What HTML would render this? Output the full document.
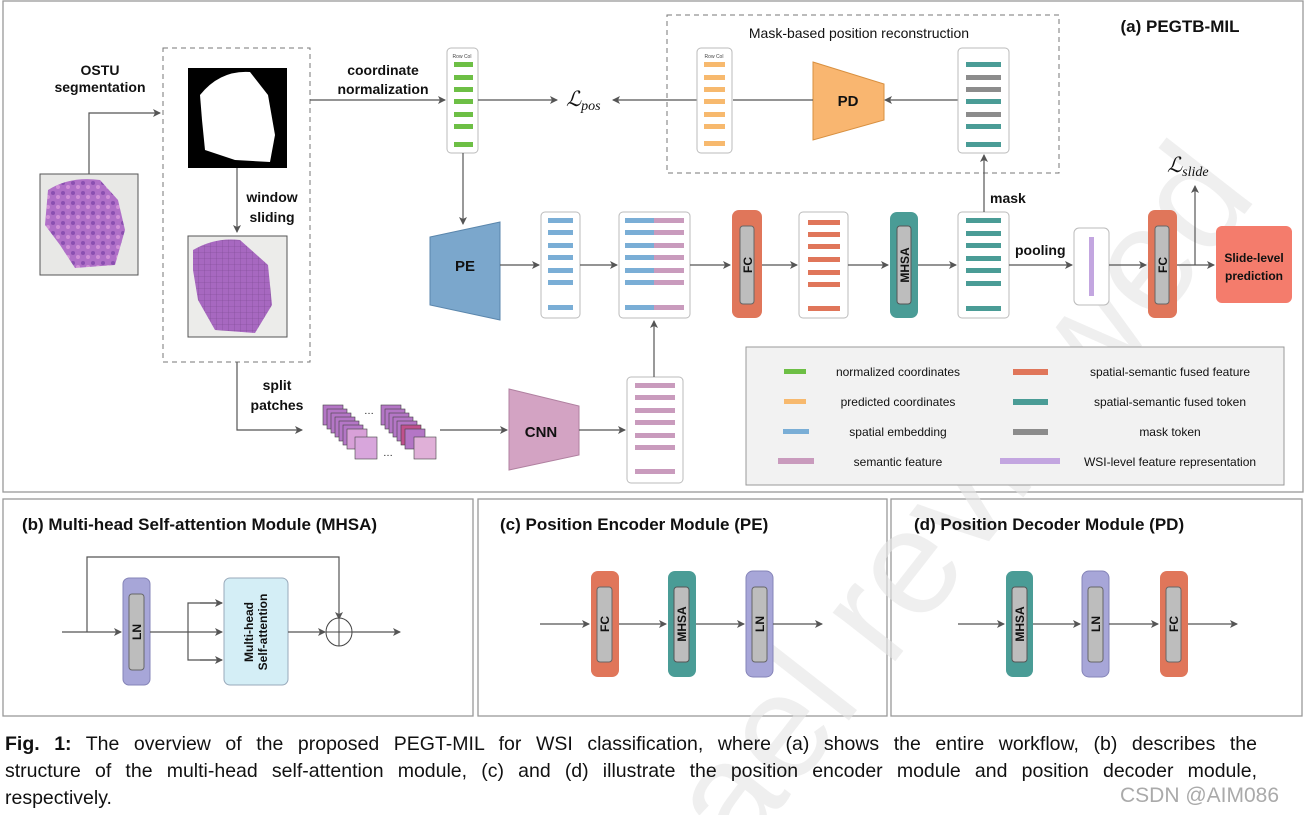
<!DOCTYPE html>
<html><head><meta charset="utf-8"><style>
html,body{margin:0;padding:0;background:#fff;width:1306px;height:815px;overflow:hidden;position:relative;font-family:"Liberation Sans",sans-serif}
svg{position:absolute;left:0;top:0}
text{font-family:"Liberation Sans",sans-serif;fill:#111}
.cap{position:absolute;left:5px;top:731px;width:1252px;height:82px;overflow:hidden;font-size:19.5px;line-height:27px;color:#111}
.cap div{height:27px;text-align:justify;text-align-last:justify;white-space:nowrap}
.cap div.l{text-align-last:left}
</style></head><body>
<svg width="1306" height="815" viewBox="0 0 1306 815">
<defs>
<marker id="a" markerWidth="8" markerHeight="8" refX="7" refY="4" orient="auto" markerUnits="userSpaceOnUse"><path d="M0,0 L8,4 L0,8 L2,4 Z" fill="#555"/></marker>
<pattern id="tis" width="10" height="10" patternUnits="userSpaceOnUse"><rect width="10" height="10" fill="#b070c8"/><circle cx="3" cy="3" r="2" fill="#8a4fb0"/><circle cx="8" cy="7" r="2" fill="#d090d8"/></pattern>
<pattern id="grid" width="6" height="6" patternUnits="userSpaceOnUse"><rect width="6" height="6" fill="#a768c0"/><path d="M0,0 H6 M0,0 V6" stroke="#7a4a90" stroke-width="0.6"/></pattern>
</defs>
<g fill="none" stroke="#999" stroke-width="1.3">
<rect x="3" y="1" width="1300" height="491"/>
<rect x="3" y="499" width="470" height="217"/>
<rect x="478" y="499" width="409" height="217"/>
<rect x="891" y="499" width="411" height="217"/>
</g>
<text x="0" y="0" transform="translate(740,860) rotate(-52)" style="font-size:150px;fill:#e6e6e6;opacity:0.6">ael reviewed</text>

<text x="100" y="75" text-anchor="middle" style="font-size:14px;font-weight:bold">OSTU</text>
<text x="100" y="92" text-anchor="middle" style="font-size:14px;font-weight:bold">segmentation</text>
<rect x="40" y="174" width="98" height="101" fill="#e8e8e6" stroke="#555"/>
<path d="M48,190 Q70,176 100,180 L118,200 L125,230 L115,265 L75,268 L60,245 L45,225 Z" fill="url(#tis)"/>
<polyline points="89,174 89,113 160,113" fill="none" stroke="#555" stroke-width="1.2" marker-end="url(#a)"/>
<rect x="163" y="48" width="147" height="314" fill="none" stroke="#777" stroke-dasharray="5,4"/>
<rect x="188" y="68" width="99" height="100" fill="#000"/>
<path d="M200,95 Q220,70 250,72 L268,95 L275,135 L270,162 L235,160 L205,150 L202,120 Z" fill="#fff"/>
<line x1="237" y1="168" x2="237" y2="232" stroke="#555" stroke-width="1.2" marker-end="url(#a)"/>
<text x="272" y="202" text-anchor="middle" style="font-size:14px;font-weight:bold">window</text>
<text x="272" y="222" text-anchor="middle" style="font-size:14px;font-weight:bold">sliding</text>
<rect x="188" y="236" width="99" height="101" fill="#ececea" stroke="#555"/>
<path d="M193,250 Q215,237 240,240 L268,265 L272,305 L255,333 L215,330 L198,300 L193,270 Z" fill="url(#grid)"/>
<text x="383" y="75" text-anchor="middle" style="font-size:14px;font-weight:bold">coordinate</text>
<text x="383" y="94" text-anchor="middle" style="font-size:14px;font-weight:bold">normalization</text>
<line x1="310" y1="100" x2="445" y2="100" stroke="#555" stroke-width="1.2" marker-end="url(#a)"/>
<rect x="447" y="48" width="31" height="105" rx="4" fill="#fff" stroke="#bbb"/>
<text x="462" y="58" text-anchor="middle" style="font-size:5px;fill:#444">Row Col</text>
<g fill="#6dbf45"><rect x="454" y="62" width="19" height="5"/><rect x="454" y="75" width="19" height="5"/><rect x="454" y="87" width="19" height="5"/><rect x="454" y="99" width="19" height="5"/><rect x="454" y="112" width="19" height="5"/><rect x="454" y="124" width="19" height="5"/><rect x="454" y="142" width="19" height="5"/></g>
<line x1="478" y1="100" x2="557" y2="100" stroke="#555" stroke-width="1.2" marker-end="url(#a)"/>
<text x="566" y="106" style="font-family:'Liberation Serif',serif;font-size:21px;font-style:italic">ℒ<tspan style="font-size:14px" dy="4">pos</tspan></text>
<line x1="697" y1="100" x2="613" y2="100" stroke="#555" stroke-width="1.2" marker-end="url(#a)"/>
<line x1="463" y1="153" x2="463" y2="224" stroke="#555" stroke-width="1.2" marker-end="url(#a)"/>
<rect x="667" y="15" width="392" height="158" fill="none" stroke="#777" stroke-dasharray="5,4"/>
<text x="859" y="38" text-anchor="middle" style="font-size:14px">Mask-based position reconstruction</text>
<text x="1180" y="32" text-anchor="middle" style="font-size:17px;font-weight:bold">(a) PEGTB-MIL</text>
<rect x="697" y="48" width="35" height="105" rx="4" fill="#fff" stroke="#bbb"/>
<text x="714" y="58" text-anchor="middle" style="font-size:5px;fill:#444">Row Col</text>
<g fill="#f7b96e"><rect x="704" y="62" width="21" height="5"/><rect x="704" y="75" width="21" height="5"/><rect x="704" y="87" width="21" height="5"/><rect x="704" y="99" width="21" height="5"/><rect x="704" y="112" width="21" height="5"/><rect x="704" y="124" width="21" height="5"/><rect x="704" y="141" width="21" height="5"/></g>
<polygon points="813,62 884,84 884,120 813,140" fill="#f9b670" stroke="#d89040"/>
<text x="848" y="106" text-anchor="middle" style="font-size:15px;font-weight:bold">PD</text>
<line x1="958" y1="100" x2="885" y2="100" stroke="#555" stroke-width="1.2" marker-end="url(#a)"/>
<line x1="733" y1="100" x2="813" y2="100" stroke="#555" stroke-width="1.2"/>
<rect x="958" y="48" width="51" height="105" rx="4" fill="#fff" stroke="#bbb"/>
<g><rect x="966" y="62" width="35" height="5" fill="#4a9c96"/><rect x="966" y="75" width="35" height="5" fill="#8c8c8c"/><rect x="966" y="87" width="35" height="5" fill="#8c8c8c"/><rect x="966" y="99" width="35" height="5" fill="#4a9c96"/><rect x="966" y="112" width="35" height="5" fill="#8c8c8c"/><rect x="966" y="124" width="35" height="5" fill="#4a9c96"/><rect x="966" y="142" width="35" height="5" fill="#4a9c96"/></g>
<polygon points="430,237 500,222 500,320 430,305" fill="#7ba7cc" stroke="#5a86ac"/>
<text x="465" y="271" text-anchor="middle" style="font-size:15px;font-weight:bold">PE</text>
<line x1="500" y1="265" x2="539" y2="265" stroke="#555" stroke-width="1.2" marker-end="url(#a)"/>
<rect x="541" y="212" width="39" height="106" rx="4" fill="#fff" stroke="#bbb"/>
<g fill="#7aaed6"><rect x="548" y="218" width="25" height="5"/><rect x="548" y="230" width="25" height="5"/><rect x="548" y="243" width="25" height="5"/><rect x="548" y="255" width="25" height="5"/><rect x="548" y="268" width="25" height="5"/><rect x="548" y="280" width="25" height="5"/><rect x="548" y="305" width="25" height="5"/></g>
<line x1="580" y1="265" x2="617" y2="265" stroke="#555" stroke-width="1.2" marker-end="url(#a)"/>
<rect x="619" y="212" width="71" height="106" rx="4" fill="#fff" stroke="#bbb"/>
<g fill="#7aaed6"><rect x="625" y="218" width="29" height="5"/><rect x="625" y="230" width="29" height="5"/><rect x="625" y="243" width="29" height="5"/><rect x="625" y="255" width="29" height="5"/><rect x="625" y="268" width="29" height="5"/><rect x="625" y="280" width="29" height="5"/><rect x="625" y="305" width="29" height="5"/></g>
<g fill="#c99bbd"><rect x="654" y="218" width="30" height="5"/><rect x="654" y="230" width="30" height="5"/><rect x="654" y="243" width="30" height="5"/><rect x="654" y="255" width="30" height="5"/><rect x="654" y="268" width="30" height="5"/><rect x="654" y="280" width="30" height="5"/><rect x="654" y="305" width="30" height="5"/></g>
<line x1="690" y1="265" x2="730" y2="265" stroke="#555" stroke-width="1.2" marker-end="url(#a)"/>
<rect x="732" y="210" width="30" height="108" rx="7" fill="#e0765a"/><rect x="740" y="226" width="14" height="78" rx="3" fill="#bdbdbd" stroke="#666"/>
<text transform="translate(752,265) rotate(-90)" text-anchor="middle" style="font-size:12px;font-weight:bold">FC</text>
<line x1="762" y1="265" x2="797" y2="265" stroke="#555" stroke-width="1.2" marker-end="url(#a)"/>
<rect x="799" y="212" width="49" height="106" rx="4" fill="#fff" stroke="#bbb"/>
<g fill="#e0765a"><rect x="808" y="220" width="32" height="5"/><rect x="808" y="232" width="32" height="5"/><rect x="808" y="244" width="32" height="5"/><rect x="808" y="257" width="32" height="5"/><rect x="808" y="270" width="32" height="5"/><rect x="808" y="282" width="32" height="5"/><rect x="808" y="306" width="32" height="5"/></g>
<line x1="848" y1="265" x2="888" y2="265" stroke="#555" stroke-width="1.2" marker-end="url(#a)"/>
<rect x="890" y="212" width="28" height="106" rx="7" fill="#4a9c96"/><rect x="897" y="226" width="14" height="78" rx="3" fill="#bdbdbd" stroke="#555"/>
<text transform="translate(909,265) rotate(-90)" text-anchor="middle" style="font-size:12px;font-weight:bold">MHSA</text>
<line x1="918" y1="265" x2="956" y2="265" stroke="#555" stroke-width="1.2" marker-end="url(#a)"/>
<rect x="958" y="212" width="51" height="106" rx="4" fill="#fff" stroke="#bbb"/>
<g fill="#4a9c96"><rect x="966" y="218" width="35" height="5"/><rect x="966" y="231" width="35" height="5"/><rect x="966" y="243" width="35" height="5"/><rect x="966" y="256" width="35" height="5"/><rect x="966" y="268" width="35" height="5"/><rect x="966" y="281" width="35" height="5"/><rect x="966" y="306" width="35" height="5"/></g>
<line x1="984" y1="212" x2="984" y2="155" stroke="#555" stroke-width="1.2" marker-end="url(#a)"/>
<text x="990" y="203" style="font-size:14px;font-weight:bold">mask</text>
<text x="1015" y="255" style="font-size:14px;font-weight:bold">pooling</text>
<line x1="1009" y1="265" x2="1072" y2="265" stroke="#555" stroke-width="1.2" marker-end="url(#a)"/>
<rect x="1074" y="228" width="35" height="77" rx="5" fill="#fff" stroke="#bbb"/>
<rect x="1089" y="237" width="5" height="59" fill="#c3a6e0"/>
<line x1="1109" y1="265" x2="1146" y2="265" stroke="#555" stroke-width="1.2" marker-end="url(#a)"/>
<rect x="1148" y="210" width="29" height="108" rx="7" fill="#e0765a"/><rect x="1155" y="226" width="14" height="78" rx="3" fill="#bdbdbd" stroke="#666"/>
<text transform="translate(1167,265) rotate(-90)" text-anchor="middle" style="font-size:12px;font-weight:bold">FC</text>
<line x1="1177" y1="265" x2="1214" y2="265" stroke="#555" stroke-width="1.2" marker-end="url(#a)"/>
<line x1="1195" y1="265" x2="1195" y2="186" stroke="#555" stroke-width="1.2" marker-end="url(#a)"/>
<text x="1167" y="172" style="font-family:'Liberation Serif',serif;font-size:21px;font-style:italic">ℒ<tspan style="font-size:14px" dy="4">slide</tspan></text>
<rect x="1216" y="226" width="76" height="77" rx="6" fill="#f47c6c"/>
<text x="1254" y="262" text-anchor="middle" style="font-size:12px;font-weight:bold">Slide-level</text>
<text x="1254" y="280" text-anchor="middle" style="font-size:12px;font-weight:bold">prediction</text>
<text x="277" y="390" text-anchor="middle" style="font-size:14px;font-weight:bold">split</text>
<text x="277" y="410" text-anchor="middle" style="font-size:14px;font-weight:bold">patches</text>
<polyline points="237,362 237,430 302,430" fill="none" stroke="#555" stroke-width="1.2" marker-end="url(#a)"/>
<g stroke="#444" stroke-width="0.6" fill="#b476c6">
<rect x="323" y="405" width="20" height="20"/><rect x="327" y="409" width="20" height="20"/><rect x="331" y="413" width="20" height="20"/><rect x="335" y="417" width="20" height="20"/><rect x="339" y="421" width="20" height="20"/><rect x="343" y="425" width="20" height="20"/><rect x="347" y="429" width="20" height="20" fill="#d8a0d8"/><rect x="355" y="437" width="22" height="22" fill="#d8a6dc"/>
<rect x="381" y="405" width="20" height="20"/><rect x="385" y="409" width="20" height="20"/><rect x="389" y="413" width="20" height="20"/><rect x="393" y="417" width="20" height="20"/><rect x="397" y="421" width="20" height="20"/><rect x="401" y="425" width="20" height="20" fill="#c0508c"/><rect x="405" y="429" width="20" height="20"/><rect x="414" y="437" width="22" height="22" fill="#e0b0d8"/>
</g>
<text x="364" y="414" style="font-size:10px">…</text><text x="383" y="456" style="font-size:10px">…</text>
<line x1="440" y1="430" x2="507" y2="430" stroke="#555" stroke-width="1.2" marker-end="url(#a)"/>
<polygon points="509,389 579,406 579,455 509,470" fill="#d3a3c3" stroke="#b080a0"/>
<text x="541" y="437" text-anchor="middle" style="font-size:15px;font-weight:bold">CNN</text>
<line x1="579" y1="430" x2="625" y2="430" stroke="#555" stroke-width="1.2" marker-end="url(#a)"/>
<rect x="627" y="377" width="56" height="106" rx="4" fill="#fff" stroke="#bbb"/>
<g fill="#c99bbd"><rect x="635" y="383" width="40" height="5"/><rect x="635" y="395" width="40" height="5"/><rect x="635" y="408" width="40" height="5"/><rect x="635" y="420" width="40" height="5"/><rect x="635" y="433" width="40" height="5"/><rect x="635" y="445" width="40" height="5"/><rect x="635" y="469" width="40" height="5"/></g>
<line x1="654" y1="377" x2="654" y2="321" stroke="#555" stroke-width="1.2" marker-end="url(#a)"/>
<rect x="746" y="347" width="538" height="138" fill="#f2f2f2" stroke="#999"/>
<g style="font-size:12px">
<rect x="784" y="369" width="22" height="5" fill="#6dbf45"/><text x="898" y="376" text-anchor="middle">normalized coordinates</text>
<rect x="784" y="399" width="22" height="5" fill="#f7b96e"/><text x="898" y="406" text-anchor="middle">predicted coordinates</text>
<rect x="783" y="429" width="26" height="5" fill="#7aaed6"/><text x="898" y="436" text-anchor="middle">spatial embedding</text>
<rect x="778" y="458" width="36" height="6" fill="#c99bbd"/><text x="898" y="466" text-anchor="middle">semantic feature</text>
<rect x="1013" y="369" width="35" height="6" fill="#e0765a"/><text x="1170" y="376" text-anchor="middle">spatial-semantic fused feature</text>
<rect x="1013" y="399" width="35" height="6" fill="#4a9c96"/><text x="1170" y="406" text-anchor="middle">spatial-semantic fused token</text>
<rect x="1013" y="429" width="35" height="6" fill="#8c8c8c"/><text x="1170" y="436" text-anchor="middle">mask token</text>
<rect x="1000" y="458" width="60" height="6" fill="#c3a6e0"/><text x="1170" y="466" text-anchor="middle">WSI-level feature representation</text>
</g>
<text x="22" y="530" style="font-size:17px;font-weight:bold">(b) Multi-head Self-attention Module (MHSA)</text>
<line x1="62" y1="632" x2="121" y2="632" stroke="#555" stroke-width="1.2" marker-end="url(#a)"/>
<polyline points="87,632 87,557 339,557 339,619" fill="none" stroke="#555" stroke-width="1.2" marker-end="url(#a)"/>
<rect x="123" y="578" width="27" height="107" rx="6" fill="#a7a6d8" stroke="#8584b8"/><rect x="129" y="594" width="15" height="76" rx="3" fill="#bdbdbd" stroke="#666"/>
<text transform="translate(141,632) rotate(-90)" text-anchor="middle" style="font-size:12px;font-weight:bold">LN</text>
<line x1="150" y1="632" x2="222" y2="632" stroke="#555" stroke-width="1.2" marker-end="url(#a)"/>
<polyline points="222,603 188,603 188,660 222,660" fill="none" stroke="#555" stroke-width="1.2"/>
<line x1="200" y1="603" x2="222" y2="603" stroke="#555" stroke-width="1.2" marker-end="url(#a)"/>
<line x1="200" y1="660" x2="222" y2="660" stroke="#555" stroke-width="1.2" marker-end="url(#a)"/>
<rect x="224" y="578" width="64" height="107" rx="6" fill="#d4eef6" stroke="#9ab"/>
<text transform="translate(253,632) rotate(-90)" text-anchor="middle" style="font-size:12px;font-weight:bold">Multi-head</text>
<text transform="translate(267,632) rotate(-90)" text-anchor="middle" style="font-size:12px;font-weight:bold">Self-attention</text>
<line x1="288" y1="632" x2="325" y2="632" stroke="#555" stroke-width="1.2" marker-end="url(#a)"/>
<ellipse cx="339" cy="632" rx="13" ry="14" fill="#fff" stroke="#444"/><path d="M326,632 H352 M339,618 V646" stroke="#444"/>
<line x1="352" y1="632" x2="400" y2="632" stroke="#555" stroke-width="1.2" marker-end="url(#a)"/>
<text x="500" y="530" style="font-size:17px;font-weight:bold">(c) Position Encoder Module (PE)</text>
<line x1="540" y1="624" x2="589" y2="624" stroke="#555" stroke-width="1.2" marker-end="url(#a)"/>
<rect x="591" y="571" width="28" height="106" rx="7" fill="#e0765a"/><rect x="597" y="587" width="15" height="75" rx="3" fill="#bdbdbd" stroke="#666"/>
<text transform="translate(609,624) rotate(-90)" text-anchor="middle" style="font-size:12px;font-weight:bold">FC</text>
<line x1="619" y1="624" x2="666" y2="624" stroke="#555" stroke-width="1.2" marker-end="url(#a)"/>
<rect x="668" y="571" width="28" height="106" rx="7" fill="#4a9c96"/><rect x="674" y="587" width="15" height="75" rx="3" fill="#bdbdbd" stroke="#555"/>
<text transform="translate(686,624) rotate(-90)" text-anchor="middle" style="font-size:12px;font-weight:bold">MHSA</text>
<line x1="696" y1="624" x2="744" y2="624" stroke="#555" stroke-width="1.2" marker-end="url(#a)"/>
<rect x="746" y="571" width="27" height="106" rx="7" fill="#a7a6d8" stroke="#8584b8"/><rect x="752" y="587" width="15" height="75" rx="3" fill="#bdbdbd" stroke="#666"/>
<text transform="translate(764,624) rotate(-90)" text-anchor="middle" style="font-size:12px;font-weight:bold">LN</text>
<line x1="773" y1="624" x2="822" y2="624" stroke="#555" stroke-width="1.2" marker-end="url(#a)"/>
<text x="914" y="530" style="font-size:17px;font-weight:bold">(d) Position Decoder Module (PD)</text>
<line x1="958" y1="624" x2="1004" y2="624" stroke="#555" stroke-width="1.2" marker-end="url(#a)"/>
<rect x="1006" y="571" width="27" height="106" rx="7" fill="#4a9c96"/><rect x="1012" y="587" width="15" height="75" rx="3" fill="#bdbdbd" stroke="#555"/>
<text transform="translate(1024,624) rotate(-90)" text-anchor="middle" style="font-size:12px;font-weight:bold">MHSA</text>
<line x1="1033" y1="624" x2="1080" y2="624" stroke="#555" stroke-width="1.2" marker-end="url(#a)"/>
<rect x="1082" y="571" width="27" height="106" rx="7" fill="#a7a6d8" stroke="#8584b8"/><rect x="1088" y="587" width="15" height="75" rx="3" fill="#bdbdbd" stroke="#666"/>
<text transform="translate(1100,624) rotate(-90)" text-anchor="middle" style="font-size:12px;font-weight:bold">LN</text>
<line x1="1109" y1="624" x2="1158" y2="624" stroke="#555" stroke-width="1.2" marker-end="url(#a)"/>
<rect x="1160" y="571" width="28" height="106" rx="7" fill="#e0765a"/><rect x="1166" y="587" width="15" height="75" rx="3" fill="#bdbdbd" stroke="#666"/>
<text transform="translate(1178,624) rotate(-90)" text-anchor="middle" style="font-size:12px;font-weight:bold">FC</text>
<line x1="1188" y1="624" x2="1237" y2="624" stroke="#555" stroke-width="1.2" marker-end="url(#a)"/>
<text x="1120" y="802" style="font-size:21px;fill:#aaa">CSDN @AIM086</text>
</svg>
<div class="cap">
<div><b>Fig. 1:</b> The overview of the proposed PEGT-MIL for WSI classification, where (a) shows the entire workflow, (b) describes the</div>
<div>structure of the multi-head self-attention module, (c) and (d) illustrate the position encoder module and position decoder module,</div>
<div class="l">respectively.</div>
</div>
</body></html>
